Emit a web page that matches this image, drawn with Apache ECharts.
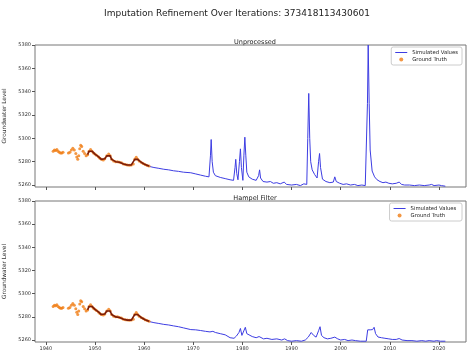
<!DOCTYPE html>
<html><head><meta charset="utf-8">
<script src="https://cdn.jsdelivr.net/npm/echarts@6/dist/echarts.min.js"></script>
<style>html,body{margin:0;padding:0;background:#fff}#c{width:474px;height:359px}</style>
</head><body><div id="c"></div>
<script>
const titleText = "Imputation Refinement Over Iterations: 373418113430601";
const panelTitles = ["Unprocessed", "Hampel Filter"];
const yTicks = [5260, 5280, 5300, 5320, 5340, 5360, 5380];
const xTicks = [1940, 1950, 1960, 1970, 1980, 1990, 2000, 2010, 2020];

// Ground truth (orange dots)
const gtYears = [1941.5,1941.75,1942.0,1942.25,1942.5,1942.75,1943.0,1943.25,1943.5,
  1944.6,1944.9,1945.2,1945.5,1945.8,1946.1,1946.3,1946.5,1946.7,1946.9,1947.1,1947.3,1947.6,1947.9,1948.2,
  1948.5,1948.8,1949.1,1949.4,1949.7,1950.0,1950.3,1950.7,1951.0,1951.3,1951.7,1952.0,1952.4,1952.8,1953.1,1953.4,1953.8,
  1954.2,1954.6,1955.0,1955.4,1955.8,1956.2,1956.6,1957.0,1957.4,1957.8,1958.1,1958.4,1958.7,1959.0,1959.4,1959.8,1960.2,1960.6,1961.0];
const gtValues = [5289,5290,5289.5,5290.5,5289,5288,5287.5,5287.5,5288,
  5287.5,5288,5290,5291.5,5290,5287,5284,5282,5285,5291,5294,5293,5289,5287,5285,
  5286,5289,5290.5,5289,5287.5,5286.5,5285.5,5284.3,5283,5282,5281.5,5282.5,5285,5286.6,5285,5282,5280.5,
  5280,5280,5279.5,5279,5278,5277.5,5277.2,5277,5277.2,5278,5282,5283.7,5282,5280.5,5279.5,5278.5,5277.5,5276.8,5276.3];
// Overlap segment (dark) starts at this index of ground truth
const overlapStart = 24;

// Simulated values — Unprocessed
const rawYears = [1960.5,1961,1962,1963,1964,1965,1966,1967,1968,1969.5,1970.5,1971.5,1972.5,1973.2,1973.5,1973.65,1973.85,1974.1,1974.5,1975.5,1976.5,1977.5,
  1978.2,1978.5,1978.65,1978.85,1979.1,1979.4,1979.6,1979.8,1980.1,1980.3,1980.5,1980.7,1980.9,1981.3,1982,1982.8,1983.3,1983.5,1983.7,1984.2,
  1985,1985.7,1986.3,1987,1987.7,1988.5,1989,1990,1991,1991.8,1992.5,1993.1,1993.3,1993.5,1993.7,1993.9,1994.2,1994.7,1995.2,1995.5,1995.7,1995.9,
  1996.3,1997,1997.8,1998.5,1998.8,1999.1,1999.8,2000.5,2001.2,2002,2002.8,2003.5,2004.3,2005.0,2005.3,2005.45,2005.6,2005.8,2006.0,2006.4,2006.9,
  2007.4,2008,2008.6,2009.2,2009.8,2010.5,2011.3,2011.9,2012.4,2013,2014,2015,2016,2017,2018,2018.5,2019,2020,2020.5,2021.3];
const rawValues = [5276.8,5276,5275,5274.3,5273.5,5273,5272.2,5271.7,5271,5270.5,5269.5,5268.5,5267.5,5267,5285,5299,5280,5271,5268,5266.5,5265.5,5264.5,
  5264,5275,5282,5270,5264.5,5280,5291,5275,5264,5285,5301,5285,5271,5267,5265,5264,5268,5273,5266,5263,
  5262.5,5263,5261.5,5262,5261,5262.5,5260.5,5260,5260.5,5259.5,5261,5260.5,5300,5338.5,5300,5280,5273,5269,5266,5280,5287,5275,
  5265,5263,5262,5262.5,5267,5263,5261.5,5260.5,5261,5260,5260.5,5259.5,5260,5259.5,5259.5,5330,5380,5330,5290,5272,5267,
  5264.5,5263,5262,5262.5,5261.5,5261,5261.5,5262.5,5260.5,5260,5260,5259.5,5260,5259.5,5260,5260.5,5259.5,5260,5259.5,5259];

// Simulated values — Hampel Filter
const hampelYears = [1960.5,1961,1962,1963,1964,1965,1966,1967,1968,1969.5,1970.5,1971.5,1972.5,1973.4,1973.7,1974,1974.5,1975.5,1976.5,1977.5,
  1978.3,1978.8,1979.3,1979.6,1979.9,1980.3,1980.6,1980.9,1981.3,1982,1982.8,1983.4,1983.7,1984.3,1985,1986,1987,1988,1988.6,1989.2,
  1990,1991,1992,1992.8,1993.4,1994,1994.5,1995,1995.5,1995.8,1996.1,1996.6,1997.3,1998,1998.8,1999.4,2000,2000.8,2001.5,2002.3,2003,2004,
  2005.2,2005.5,2006,2006.5,2006.8,2007.1,2007.6,2008.3,2009,2009.8,2010.5,2011.3,2011.9,2012.5,2013.5,2014.5,2015.5,2016.5,2017.3,2018,2019,2019.5,2020.3,2021.3];
const hampelValues = [5276.8,5276,5275,5274.3,5273.5,5273,5272.2,5271.5,5270.5,5269,5268.8,5268.2,5267.5,5267,5268.5,5267.5,5266.5,5265.5,5264.5,5262,
  5261.5,5263.5,5266.5,5270,5264,5264.5,5271,5265.5,5264,5263,5262,5263,5262.5,5261,5261.5,5260.5,5261,5260,5261,5259.5,
  5259,5259.5,5259,5260,5262.5,5266.5,5264,5262.5,5268,5271.5,5264,5262,5261,5261.5,5262.5,5261,5260,5260.5,5259.5,5260,5259.5,5259,
  5259,5268.8,5268.8,5269,5271,5265.5,5262.6,5262,5261.5,5261,5260.5,5260.5,5261.3,5260,5259.5,5259.5,5259,5259.5,5259,5259.5,5259,5259.5,5259,5259];

const pair = (xs, ys) => xs.map((x, i) => [x, ys[i]]);
const gtData = pair(gtYears, gtValues);
const overlapData = gtData.slice(overlapStart);

const BLUE = '#3d3de2', ORANGE = '#f07d14', DARK = '#7a1c0a';
const grids = [{left: 35, right: 8, top: 45, height: 142}, {left: 35, right: 8, top: 201, height: 141}];
const sims = [pair(rawYears, rawValues), pair(hampelYears, hampelValues)];

const option = {
  animation: false,
  backgroundColor: '#fff',
  textStyle: {fontFamily: 'DejaVu Sans'},
  title: [
    {text: titleText, left: 'center', top: 4, textStyle: {fontSize: 9, fontWeight: 'normal', color: '#222'}},
    {text: panelTitles[0], left: 250, textAlign: 'center', top: 34, textStyle: {fontSize: 6.5, fontWeight: 'normal', color: '#222'}},
    {text: panelTitles[1], left: 250, textAlign: 'center', top: 190, textStyle: {fontSize: 6.5, fontWeight: 'normal', color: '#222'}}
  ],
  legend: [0, 1].map(i => ({
    right: 12, top: grids[i].top + 2, orient: 'vertical',
    itemWidth: 12, itemHeight: 4, itemGap: 2,
    padding: [3, 4, 3, 4],
    borderColor: '#ccc', borderWidth: 1, borderRadius: 2, backgroundColor: '#fff',
    textStyle: {fontSize: 5.3, color: '#222'},
    data: [{name: 'Simulated Values' + (i ? ' ' : ''), icon: 'path://M0,1L12,1L12,2L0,2Z'},
           {name: 'Ground Truth' + (i ? ' ' : ''), icon: 'circle'}]
  })),
  grid: grids.map(g => Object.assign({show: true, borderColor: '#777', borderWidth: 1, backgroundColor: '#fff', outerBoundsMode: 'none', containLabel: false}, g)),
  xAxis: [0, 1].map(i => ({
    type: 'value', gridIndex: i, min: 1937.8, max: 2025.5,
    splitLine: {show: false},
    axisLine: {show: false},
    axisTick: {show: true, length: 3, lineStyle: {color: '#555'}, customValues: xTicks},
    axisLabel: {show: i === 1, fontSize: 5, color: '#333', margin: 4, customValues: xTicks, formatter: v => String(v)}
  })),
  yAxis: [0, 1].map(i => ({
    type: 'value', gridIndex: i, min: 5258.3, max: 5380,
    name: 'Groundwater Level', nameLocation: 'middle', nameGap: 21,
    nameTextStyle: {fontSize: 5.8, color: '#333'},
    splitLine: {show: false},
    axisLine: {show: false},
    axisTick: {show: true, length: 3, lineStyle: {color: '#555'}, customValues: yTicks},
    axisLabel: {fontSize: 5, color: '#333', margin: 4, customValues: yTicks, formatter: v => String(v)}
  })),
  series: [0, 1].flatMap(i => [
    {name: 'Simulated Values' + (i ? ' ' : ''), type: 'line', xAxisIndex: i, yAxisIndex: i, data: sims[i],
     showSymbol: false, symbol: 'none', lineStyle: {color: BLUE, width: 1}, itemStyle: {color: BLUE}, z: 2},
    {name: 'Ground Truth' + (i ? ' ' : ''), type: 'scatter', xAxisIndex: i, yAxisIndex: i, data: gtData,
     symbolSize: 3, itemStyle: {color: ORANGE}, z: 3},
    {name: 'overlap' + i, type: 'line', xAxisIndex: i, yAxisIndex: i, data: overlapData,
     showSymbol: false, symbol: 'none', lineStyle: {color: DARK, width: 1.6}, z: 4}
  ])
};
echarts.init(document.getElementById('c')).setOption(option);
</script></body></html>
